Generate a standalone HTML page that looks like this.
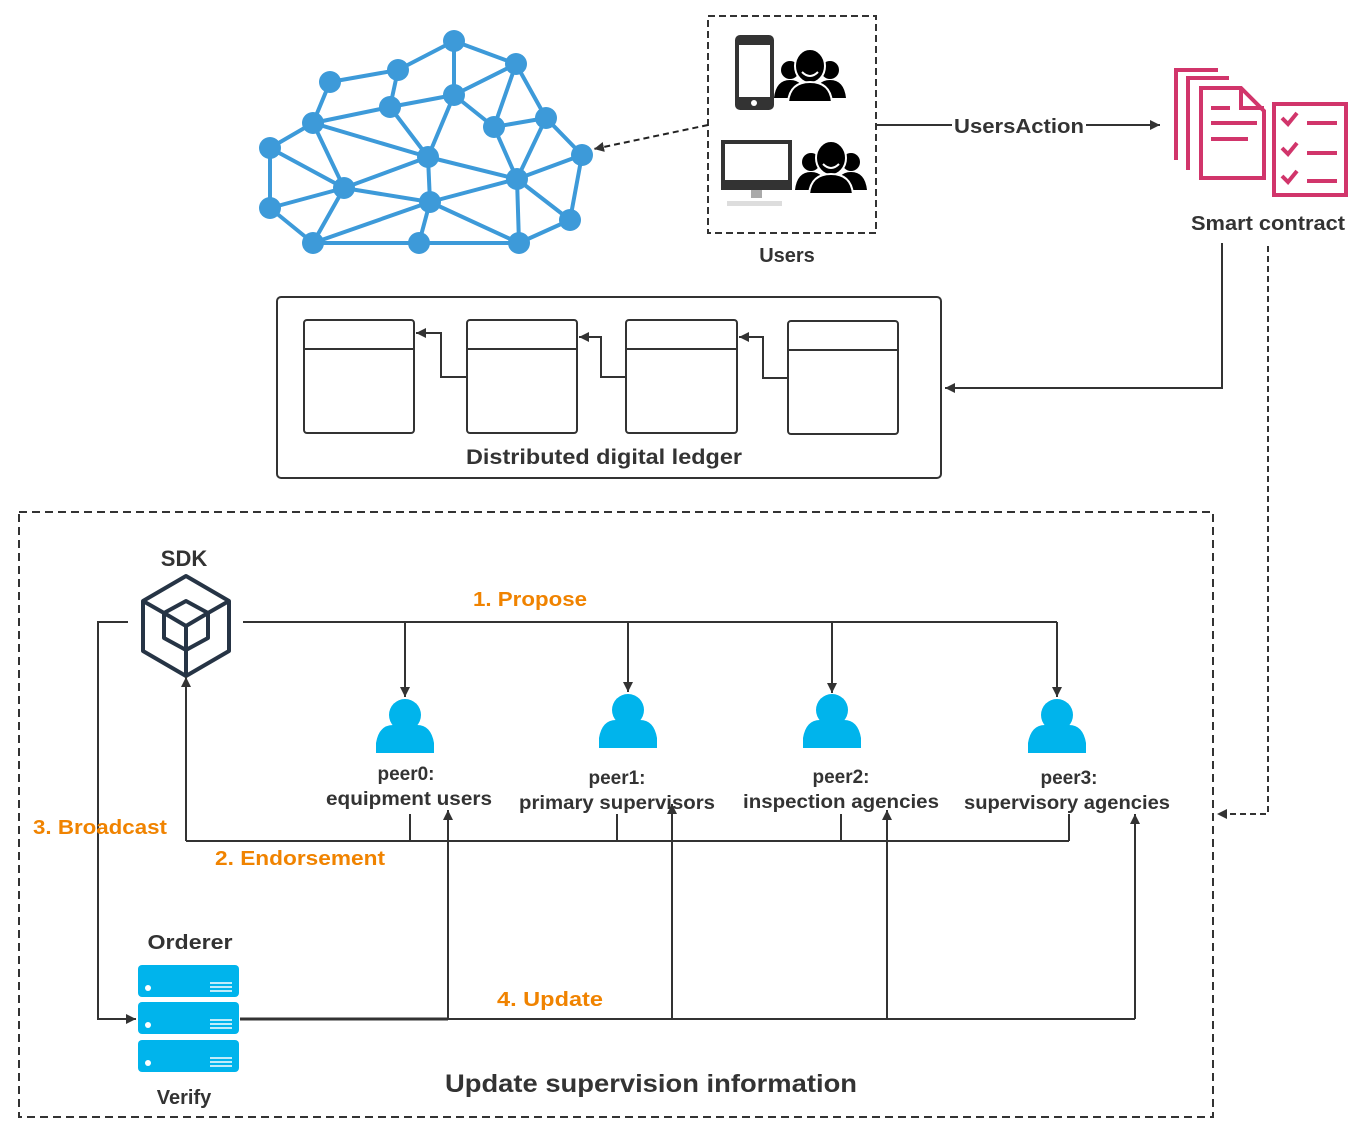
<!DOCTYPE html>
<html><head><meta charset="utf-8"><style>
html,body{margin:0;padding:0;background:#fff}
svg{display:block}
text{font-family:"Liberation Sans",sans-serif;font-weight:bold;fill:#333}
.o{fill:#f08300}
</style></head><body>
<svg width="1361" height="1132" viewBox="0 0 1361 1132" xmlns="http://www.w3.org/2000/svg">
<defs>
<marker id="ar" viewBox="0 0 10 10" refX="10" refY="5" markerWidth="10" markerHeight="10" orient="auto" markerUnits="userSpaceOnUse"><path d="M0,0L10,5L0,10z" fill="#333"/></marker>
<g id="person"><circle cx="0" cy="-16" r="16" fill="#00b4ec"/><path d="M-29,22 L-29,12 Q-26,-6 -12,-6 Q0,4 12,-6 Q26,-6 29,12 L29,22 Z" fill="#00b4ec"/></g>
<g id="crowd">
<circle cx="-20" cy="-6" r="9" fill="#000"/><circle cx="20" cy="-6" r="9" fill="#000"/>
<path d="M-36,22 Q-34,4 -20,4 Q-6,4 -4,22Z M36,22 Q34,4 20,4 Q6,4 4,22Z" fill="#000"/>
<ellipse cx="0" cy="-10" rx="15" ry="17" fill="#000" stroke="#fff" stroke-width="2"/>
<path d="M-8,-4 Q0,4 8,-4" stroke="#fff" stroke-width="2" fill="none"/>
<path d="M-22,26 Q-20,6 0,6 Q20,6 22,26Z" fill="#000" stroke="#fff" stroke-width="2"/>
</g>
<g id="srv"><rect x="0" y="0" width="101" height="32" rx="4" fill="#00b4ec"/><circle cx="10" cy="23" r="3" fill="#fff"/><path d="M72,18h22M72,22h22M72,26h22" stroke="#fff" stroke-width="1.5"/></g>
</defs>

<!-- network -->
<g stroke="#3d9ad9" stroke-width="4">
<path d="M454,41L516,64M454,41L398,70M454,41L454,95M398,70L330,82M398,70L390,107M330,82L313,123M390,107L454,95M390,107L313,123M516,64L454,95M516,64L494,127M516,64L546,118M454,95L428,157M454,95L494,127M390,107L428,157M313,123L270,148M313,123L428,157M313,123L344,188M270,148L344,188M270,148L270,208M494,127L546,118M494,127L517,179M546,118L582,155M546,118L517,179M428,157L517,179M428,157L344,188M428,157L430,202M582,155L517,179M582,155L570,220M344,188L270,208M344,188L430,202M344,188L313,243M430,202L517,179M430,202L313,243M430,202L419,243M430,202L519,243M270,208L313,243M313,243L419,243M419,243L519,243M517,179L519,243M517,179L570,220M570,220L519,243"/>
</g>
<g fill="#3d9ad9">
<circle cx="454" cy="41" r="11"/><circle cx="516" cy="64" r="11"/><circle cx="398" cy="70" r="11"/><circle cx="330" cy="82" r="11"/><circle cx="454" cy="95" r="11"/><circle cx="390" cy="107" r="11"/><circle cx="313" cy="123" r="11"/><circle cx="494" cy="127" r="11"/><circle cx="546" cy="118" r="11"/><circle cx="270" cy="148" r="11"/><circle cx="582" cy="155" r="11"/><circle cx="428" cy="157" r="11"/><circle cx="517" cy="179" r="11"/><circle cx="344" cy="188" r="11"/><circle cx="430" cy="202" r="11"/><circle cx="270" cy="208" r="11"/><circle cx="570" cy="220" r="11"/><circle cx="313" cy="243" r="11"/><circle cx="419" cy="243" r="11"/><circle cx="519" cy="243" r="11"/>
</g>

<!-- users -->
<rect x="708" y="16" width="168" height="217" fill="none" stroke="#333" stroke-width="2" stroke-dasharray="7,4"/>
<line x1="708" y1="125" x2="594" y2="149" stroke="#222" stroke-width="2" stroke-dasharray="6,4" marker-end="url(#ar)"/>
<rect x="735" y="35" width="39" height="75" rx="5" fill="#333"/><rect x="739" y="45" width="31" height="52" fill="#fff"/><circle cx="754" cy="103" r="3" fill="#fff"/>
<use href="#crowd" x="810" y="76"/>
<rect x="721" y="140" width="71" height="50" fill="#333"/><rect x="725" y="144" width="63" height="36" fill="#fff"/><rect x="751" y="190" width="11" height="8" fill="#aaa"/><rect x="727" y="201" width="55" height="5" fill="#ddd"/>
<use href="#crowd" x="831" y="168"/>
<text x="787" y="262" text-anchor="middle" font-size="20">Users</text>

<line x1="876" y1="125" x2="952" y2="125" stroke="#333" stroke-width="2"/>
<text x="1019" y="133" text-anchor="middle" font-size="20" textLength="130" lengthAdjust="spacingAndGlyphs">UsersAction</text>
<line x1="1086" y1="125" x2="1160" y2="125" stroke="#333" stroke-width="2" marker-end="url(#ar)"/>

<!-- smart contract -->
<g stroke="#d1356b" stroke-width="4" fill="none">
<path d="M1176,160V70H1218M1188,170V78H1229"/>
<path d="M1201,178V88H1241L1264,111V178Z M1241,88V108H1264"/>
<path d="M1211,108H1230M1211,123H1257M1211,139H1248"/>
<rect x="1274" y="104" width="72" height="91"/>
<path d="M1282,118l6,6 9,-11M1282,148l6,6 9,-11M1282,176l6,6 9,-11M1307,123H1337M1307,153H1337M1307,181H1337"/>
</g>
<text x="1268" y="230" text-anchor="middle" font-size="20" textLength="154" lengthAdjust="spacingAndGlyphs">Smart contract</text>
<path d="M1222,243V388H945" stroke="#333" stroke-width="2" fill="none" marker-end="url(#ar)"/>
<path d="M1268,246V814H1217" stroke="#333" stroke-width="2" fill="none" stroke-dasharray="6,4" marker-end="url(#ar)"/>

<!-- ledger -->
<rect x="277" y="297" width="664" height="181" rx="4" fill="none" stroke="#333" stroke-width="2"/>
<g stroke="#333" stroke-width="2" fill="none">
<rect x="304" y="320" width="110" height="113" rx="3"/><line x1="304" y1="349" x2="414" y2="349"/>
<rect x="467" y="320" width="110" height="113" rx="3"/><line x1="467" y1="349" x2="577" y2="349"/>
<rect x="626" y="320" width="111" height="113" rx="3"/><line x1="626" y1="349" x2="737" y2="349"/>
<rect x="788" y="321" width="110" height="113" rx="3"/><line x1="788" y1="350" x2="898" y2="350"/>
<path d="M467,377H441V333H416" marker-end="url(#ar)"/>
<path d="M626,377H601V337H579" marker-end="url(#ar)"/>
<path d="M788,378H763V337H739" marker-end="url(#ar)"/>
</g>
<text x="604" y="464" text-anchor="middle" font-size="21" textLength="276" lengthAdjust="spacingAndGlyphs">Distributed digital ledger</text>

<!-- bottom -->
<rect x="19" y="512" width="1194" height="605" fill="none" stroke="#333" stroke-width="2" stroke-dasharray="8,5"/>
<text x="184" y="566" text-anchor="middle" font-size="22">SDK</text>
<g stroke="#263445" stroke-width="4" fill="none" stroke-linejoin="round">
<path d="M186,576L229,601V651L186,676L143,651V601Z"/>
<path d="M143,601L164,613M229,601L208,613M186,676V650"/>
<path d="M186,601L208,613V638L186,650L164,638V613Z M164,613L186,626L208,613M186,626V650"/>
</g>

<g stroke="#333" stroke-width="2" fill="none">
<path d="M243,622H1057"/>
<path d="M405,622V697" marker-end="url(#ar)"/>
<path d="M628,622V692" marker-end="url(#ar)"/>
<path d="M832,622V693" marker-end="url(#ar)"/>
<path d="M1057,622V697" marker-end="url(#ar)"/>
<path d="M410,814V841M617,814V841M841,814V841M1069,814V841M186,841H1069"/>
<path d="M186,841V677" marker-end="url(#ar)"/>
<path d="M128,622H98V1019H136" marker-end="url(#ar)"/>
<path d="M240,1019H1135"/>
<path d="M448,1019V810" marker-end="url(#ar)"/>
<path d="M672,1019V804" marker-end="url(#ar)"/>
<path d="M887,1019V810" marker-end="url(#ar)"/>
<path d="M1135,1019V814" marker-end="url(#ar)"/>
</g>
<line x1="240" y1="1019" x2="448" y2="1019" stroke="#333" stroke-width="3"/>

<g lengthAdjust="spacingAndGlyphs">
<text x="530" y="606" text-anchor="middle" font-size="20" class="o" textLength="114" lengthAdjust="spacingAndGlyphs">1. Propose</text>
<text x="300" y="865" text-anchor="middle" font-size="20" class="o" textLength="170" lengthAdjust="spacingAndGlyphs">2. Endorsement</text>
<text x="100" y="834" text-anchor="middle" font-size="20" class="o" textLength="134" lengthAdjust="spacingAndGlyphs">3. Broadcast</text>
<text x="550" y="1006" text-anchor="middle" font-size="20" class="o" textLength="106" lengthAdjust="spacingAndGlyphs">4. Update</text>
</g>

<use href="#person" x="405" y="731"/>
<use href="#person" x="628" y="726"/>
<use href="#person" x="832" y="726"/>
<use href="#person" x="1057" y="731"/>
<g font-size="19" text-anchor="middle">
<text x="406" y="780">peer0:</text><text x="409" y="805" textLength="166" lengthAdjust="spacingAndGlyphs">equipment users</text>
<text x="617" y="784">peer1:</text><text x="617" y="809" textLength="196" lengthAdjust="spacingAndGlyphs">primary supervisors</text>
<text x="841" y="783">peer2:</text><text x="841" y="808" textLength="196" lengthAdjust="spacingAndGlyphs">inspection agencies</text>
<text x="1069" y="784">peer3:</text><text x="1067" y="809" textLength="206" lengthAdjust="spacingAndGlyphs">supervisory agencies</text>
</g>

<text x="190" y="949" text-anchor="middle" font-size="20" textLength="85" lengthAdjust="spacingAndGlyphs">Orderer</text>
<use href="#srv" x="138" y="965"/>
<use href="#srv" x="138" y="1002"/>
<use href="#srv" x="138" y="1040"/>
<text x="184" y="1104" text-anchor="middle" font-size="20">Verify</text>
<text x="651" y="1092" text-anchor="middle" font-size="25" textLength="412" lengthAdjust="spacingAndGlyphs">Update supervision information</text>
</svg>
</body></html>
